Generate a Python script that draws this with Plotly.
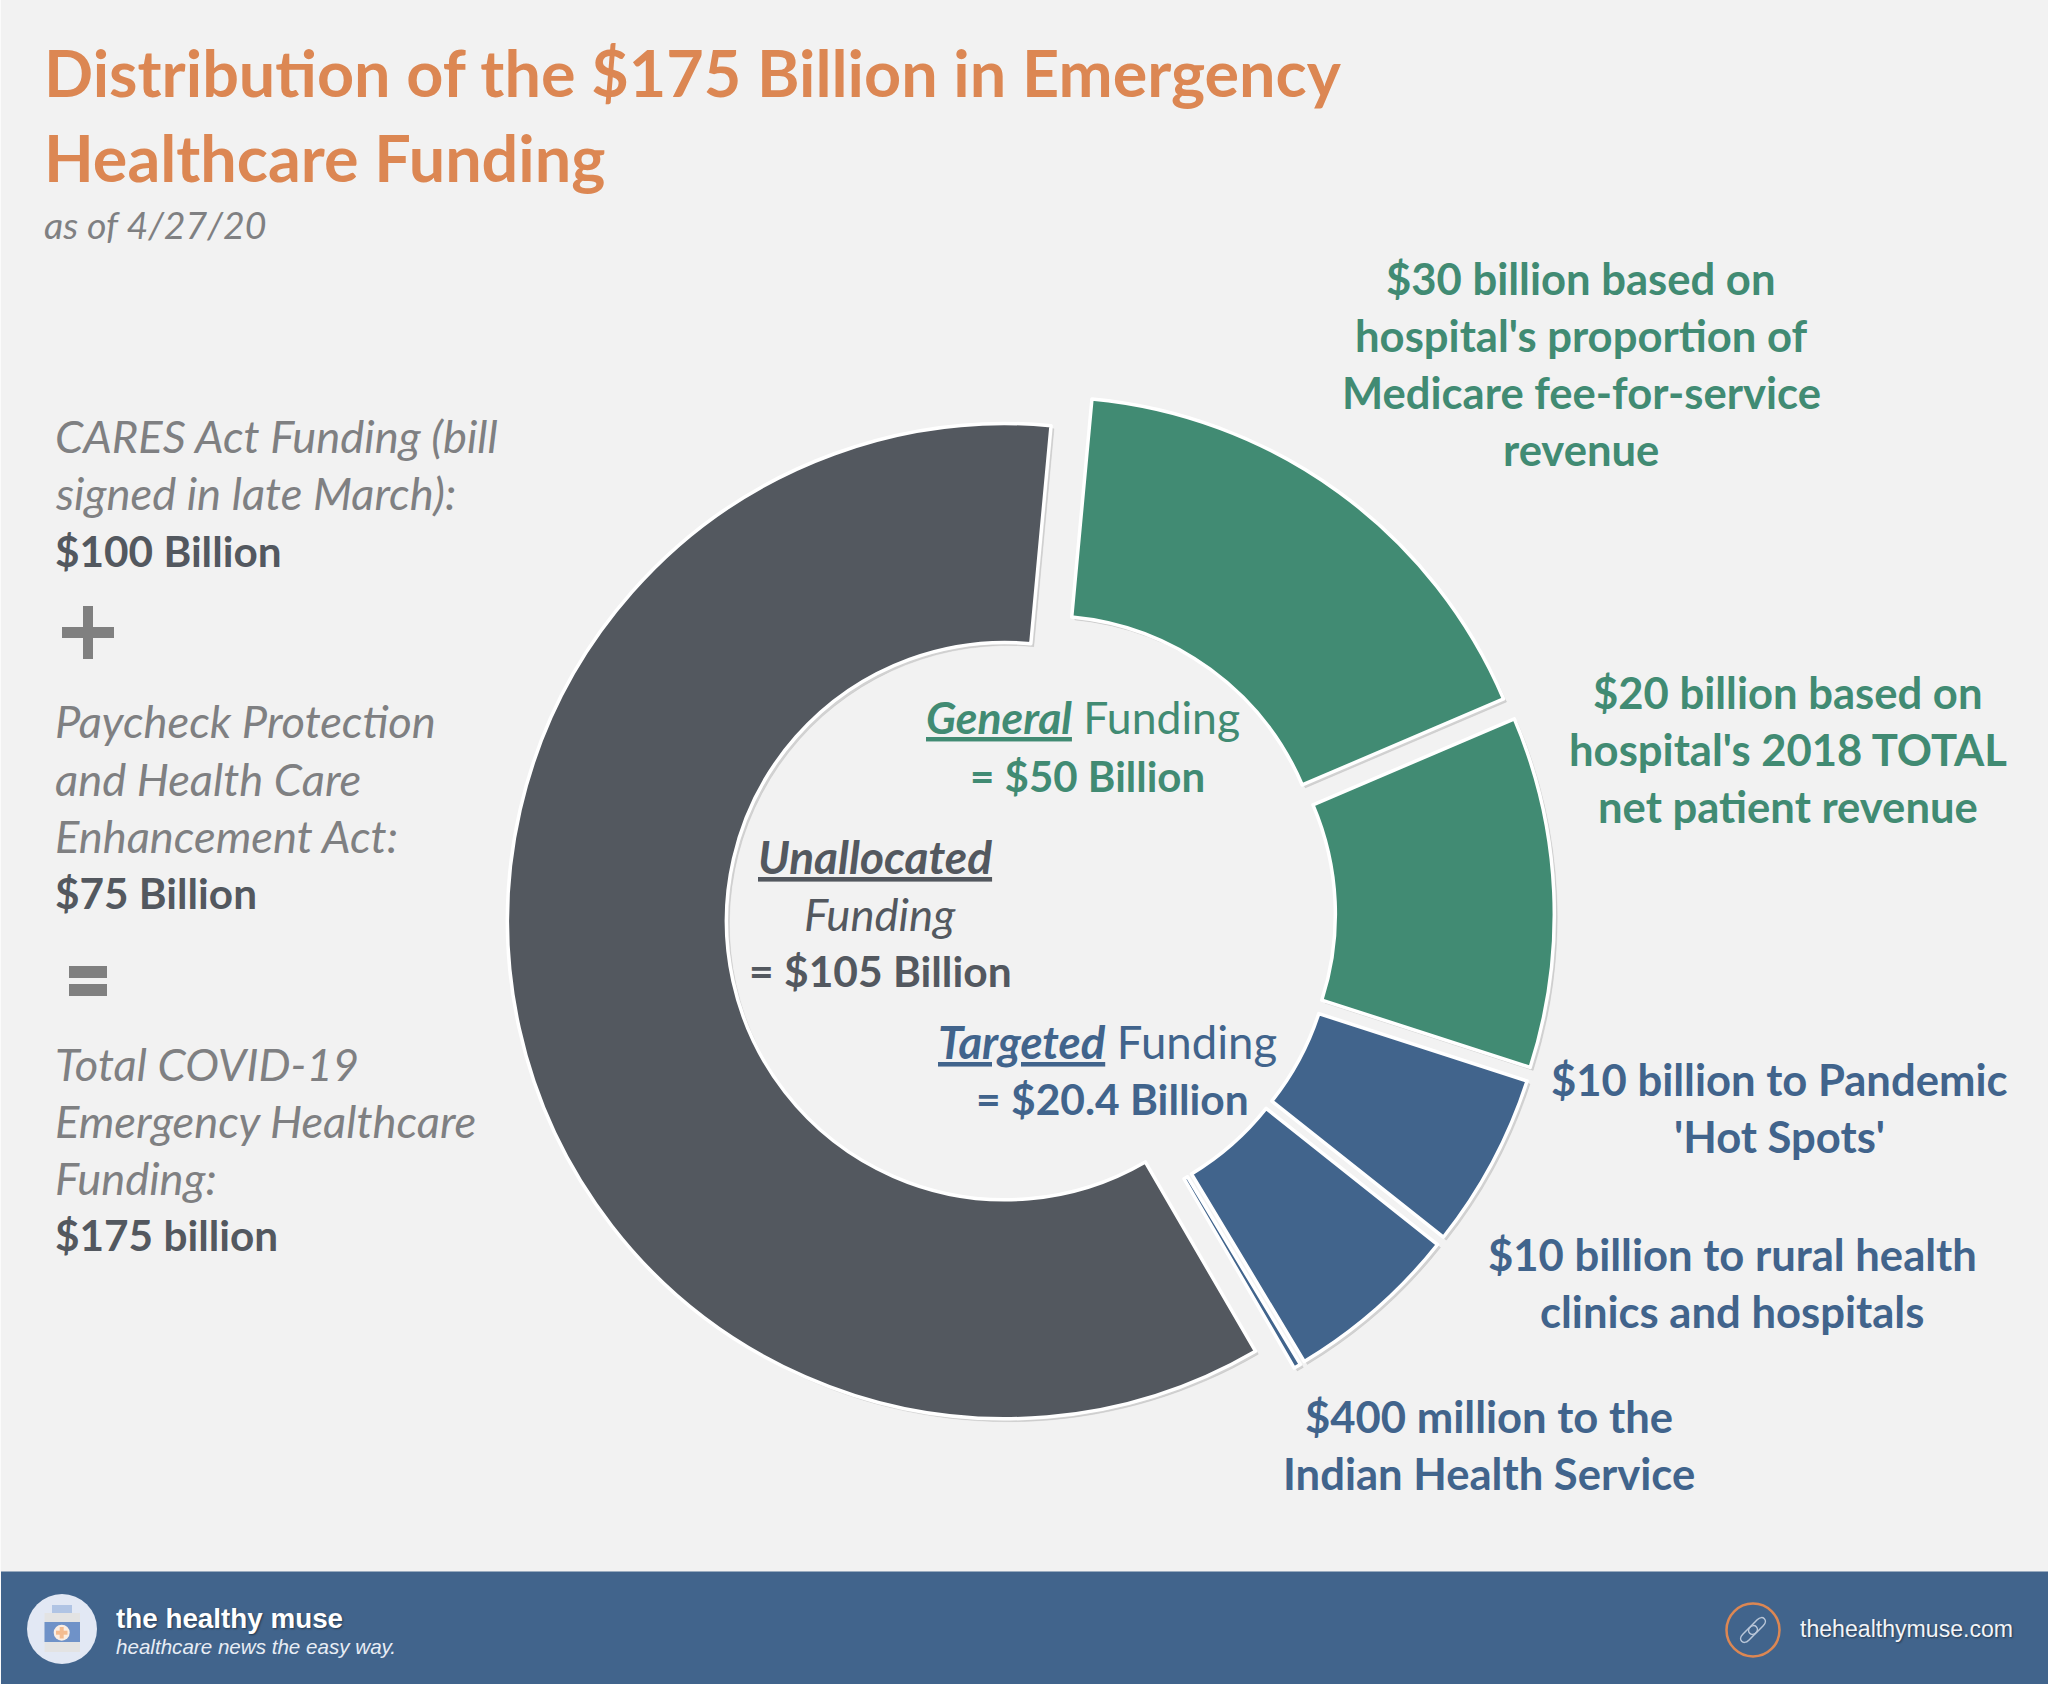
import plotly.graph_objects as go

# Funding allocation in billions of dollars, clockwise from the top of the ring
SLICE_NAMES = [
    "Medicare fee-for-service revenue",
    "2018 net patient revenue",
    "Pandemic hot spots",
    "Rural health clinics and hospitals",
    "Indian Health Service",
    "Unallocated",
]
SLICE_VALUES = [30, 20, 10, 10, 0.4, 105]

TITLE_LINES = ["Distribution of the $175 Billion in Emergency", "Healthcare Funding"]
SUBTITLE = "as of 4/27/20"
CARES_LINES = ["CARES Act Funding (bill", "signed in late March):"]
CARES_TOTAL = "$100 Billion"
PAYCHECK_LINES = ["Paycheck Protection", "and Health Care", "Enhancement Act:"]
PAYCHECK_TOTAL = "$75 Billion"
TOTAL_LINES = ["Total COVID-19", "Emergency Healthcare", "Funding:"]
TOTAL_AMOUNT = "$175 billion"
LABEL_30 = ["$30 billion based on", "hospital's proportion of", "Medicare fee-for-service", "revenue"]
LABEL_20 = ["$20 billion based on", "hospital's 2018 TOTAL", "net patient revenue"]
LABEL_HOT = ["$10 billion to Pandemic", "'Hot Spots'"]
LABEL_RURAL = ["$10 billion to rural health", "clinics and hospitals"]
LABEL_IHS = ["$400 million to the", "Indian Health Service"]

W, H = 2048, 1684
BG = "#f2f2f2"
ORANGE = "#dc8753"
GREEN = "#418b73"
BLUE = "#41648c"
SLATE = "#53585f"
GREY = "#7f8082"
BODY_FONT = "Lato"
ARIAL = "Liberation Sans"

CX, CY, R, PULL = 1030.6, 915.5, 497.6, 0.0525
ROTATION = 5.3
SLICE_COLORS = [GREEN, GREEN, BLUE, BLUE, BLUE, SLATE]


def px(x):
    return x / W


def py(y):
    return 1 - y / H


def pie_domain(dx=0.0, dy=0.0):
    half = R * (1 + PULL)
    return dict(
        x=[px(CX + dx - half), px(CX + dx + half)],
        y=[py(CY + dy + half), py(CY + dy - half)],
    )


fig = go.Figure()

# Soft drop shadow underneath the ring
fig.add_trace(go.Pie(
    values=SLICE_VALUES, labels=SLICE_NAMES, domain=pie_domain(3, 3),
    hole=0.56, sort=False, direction="clockwise", rotation=ROTATION, pull=PULL,
    marker=dict(colors=["rgba(0,0,0,0.13)"] * 6, line=dict(width=1, color="rgba(0,0,0,0.05)")),
    textinfo="none", hoverinfo="skip", showlegend=False,
))
fig.add_trace(go.Pie(
    values=SLICE_VALUES, labels=SLICE_NAMES, domain=pie_domain(),
    hole=0.56, sort=False, direction="clockwise", rotation=ROTATION, pull=PULL,
    marker=dict(colors=SLICE_COLORS, line=dict(width=3.5, color="#ffffff")),
    textinfo="none", showlegend=False,
))

annotations = []


def put(text, x, y, size, color, anchor="left", family=BODY_FONT, shadow=None):
    font = dict(family=family, size=size, color=color)
    if shadow:
        font["shadow"] = shadow
    annotations.append(dict(
        text=text, x=px(x), y=py(y), xref="paper", yref="paper", xanchor=anchor,
        yanchor="middle", showarrow=False, font=font,
    ))


def stack(lines, x, ys, size, color, anchor="center", bold=True, italic=False):
    for line, y in zip(lines, ys):
        t = line
        if italic:
            t = f"<i>{t}</i>"
        if bold:
            t = f"<b>{t}</b>"
        put(t, x, y, size, color, anchor)


LABEL = 43.6
NOTE = 45.3
AMOUNT = 42.3
LEFT = 52.5
stack(TITLE_LINES, 41.5, [72, 157], 64.7, ORANGE, "left")
stack([SUBTITLE], 41.5, [224.5], 37.5, GREY, "left", bold=False, italic=True)

stack(CARES_LINES, LEFT, [436, 493], NOTE, GREY, "left", bold=False, italic=True)
stack([CARES_TOTAL], LEFT, [550], AMOUNT, SLATE, "left")
stack(PAYCHECK_LINES, LEFT, [721, 778, 835], NOTE, GREY, "left", bold=False, italic=True)
stack([PAYCHECK_TOTAL], LEFT, [892], AMOUNT, SLATE, "left")
stack(TOTAL_LINES, LEFT, [1063, 1120, 1177], NOTE, GREY, "left", bold=False, italic=True)
stack([TOTAL_AMOUNT], LEFT, [1234], AMOUNT, SLATE, "left")

stack(LABEL_30, 1581, [278, 335, 392, 449], LABEL, GREEN)
stack(LABEL_20, 1788, [692, 749, 806], LABEL, GREEN)
stack(LABEL_HOT, 1779, [1079, 1136], LABEL, BLUE)
stack(LABEL_RURAL, 1732, [1254, 1311], LABEL, BLUE)
stack(LABEL_IHS, 1489, [1416, 1473], LABEL, BLUE)

put("<b><i><u>General</u></i></b> Funding", 1083, 717, 44.5, GREEN, "center")
put("<b>= $50 Billion</b>", 1087, 776, 42, GREEN, "center")
put("<b><i><u>Unallocated</u></i></b>", 875, 856, 46, SLATE, "center")
put("<i>Funding</i>", 880, 913, 45.5, SLATE, "center")
put("<b>= $105 Billion</b>", 880, 970, 42.5, SLATE, "center")
put("<b><i><u>Targeted</u></i></b> Funding", 1107, 1041, 45.5, BLUE, "center")
put("<b>= $20.4 Billion</b>", 1112, 1098, 42.5, BLUE, "center")

FOOT_SHADOW = "1px 1px 2px rgba(0,0,0,0.45)"
put("<b>the healthy muse</b>", 113.5, 1618, 27.8, "#ffffff", family=ARIAL, shadow=FOOT_SHADOW)
put("<i>healthcare news the easy way.</i>", 113.5, 1646, 20.6, "#e8edf5", family=ARIAL)
put("thehealthymuse.com", 1798, 1629, 23.1, "#f2f4f8", family=ARIAL, shadow=FOOT_SHADOW)


def rect(x0, y0, x1, y1, fill):
    return dict(type="rect", xref="paper", yref="paper", x0=px(x0), x1=px(x1),
                y0=py(y0), y1=py(y1), fillcolor=fill, line=dict(width=0), layer="above")


def circle(cx, cy, r, fill="rgba(0,0,0,0)", line=None, width=0):
    return dict(type="circle", xref="paper", yref="paper", x0=px(cx - r), x1=px(cx + r),
                y0=py(cy + r), y1=py(cy - r), fillcolor=fill,
                line=dict(width=width, color=line or fill), layer="above")


def link(cx, cy):
    # One oblique chain link: a capsule along the rising diagonal with rounded ends
    a, b, k = 3.2, 3.0, 5.5
    p1 = (cx - a - b, cy + a - b)
    p2 = (cx + a - b, cy - a - b)
    p3 = (cx + a + b, cy - a + b)
    p4 = (cx - a + b, cy + a + b)
    c2 = (cx + a + k - b, cy - a - k - b)
    c3 = (cx + a + k + b, cy - a - k + b)
    c4 = (cx - a - k + b, cy + a + k + b)
    c1 = (cx - a - k - b, cy + a + k - b)
    pt = lambda q: f"{px(q[0])},{py(q[1])}"
    d = (f"M{pt(p1)} L{pt(p2)} C{pt(c2)} {pt(c3)} {pt(p3)} "
         f"L{pt(p4)} C{pt(c4)} {pt(c1)} {pt(p1)} Z")
    return dict(type="path", xref="paper", yref="paper", path=d, fillcolor="rgba(0,0,0,0)",
                line=dict(width=1.5, color="#b9c6d8"), layer="above")


shapes = [
    # Operator glyphs in the left column
    rect(83, 606, 93, 659, "#808080"),
    rect(62, 627, 114, 638, "#808080"),
    rect(69, 966, 107, 978, "#808080"),
    rect(69, 984, 107, 996, "#808080"),
    # Footer band
    rect(0, 1571.5, W, H, BLUE),
    rect(0, 0, 1, H, "#fbfbfb"),
    # Medicine bottle badge
    circle(62, 1629, 35, "#e2e8f4"),
    rect(52, 1605, 72, 1613, "#b0c4e4"),
    rect(44.5, 1613, 80, 1652, "#e3e3e3"),
    rect(44.5, 1622, 80, 1642, "#6f92c8"),
    circle(61.7, 1632.7, 8, "#fbeee3"),
    rect(59.7, 1627, 63.7, 1638.5, "#f4bc90"),
    rect(56, 1630.7, 67.5, 1634.7, "#f4bc90"),
    # Website badge
    circle(1753, 1630, 26.5, line=ORANGE, width=2.5),
    link(1749, 1634),
    link(1757, 1626),
]

fig.update_layout(
    width=W, height=H, autosize=False,
    margin=dict(l=0, r=0, t=0, b=0),
    paper_bgcolor=BG, plot_bgcolor=BG,
    annotations=annotations, shapes=shapes, showlegend=False,
)
fig.write_html("out.html")
